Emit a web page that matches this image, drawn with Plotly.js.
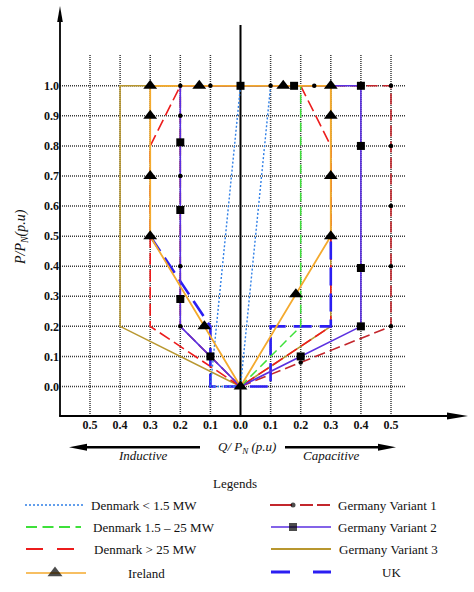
<!DOCTYPE html>
<html><head><meta charset="utf-8">
<script src="https://cdn.plot.ly/plotly-3.0.1.min.js"></script>
<style>html,body{margin:0;padding:0;background:#fff}#chart{width:474px;height:592px}</style>
</head><body><div id="chart"></div>
<script>
// ---------------- data ----------------
const qTickVals = [-0.5, -0.4, -0.3, -0.2, -0.1, 0.0, 0.1, 0.2, 0.3, 0.4, 0.5];
const qTickText = ['0.5', '0.4', '0.3', '0.2', '0.1', '0.0', '0.1', '0.2', '0.3', '0.4', '0.5'];
const pTickVals = [0.0, 0.1, 0.2, 0.3, 0.4, 0.5, 0.6, 0.7, 0.8, 0.9, 1.0];
const pTickText = ['0.0', '0.1', '0.2', '0.3', '0.4', '0.5', '0.6', '0.7', '0.8', '0.9', '1.0'];

const seriesNames = ['Denmark < 1.5 MW', 'Denmark 1.5 \u2013 25 MW', 'Denmark > 25 MW', 'Ireland',
                     'Germany Variant 1', 'Germany Variant 2', 'Germany Variant 3', 'UK'];

const denmarkLowQ  = [-0.1, 0.0, 0.1, 0.0, -0.1];
const denmarkLowP  = [0.0, 1.0, 1.0, 0.0, 0.0];
const denmarkMidQ  = [0.0, 0.2, 0.2];
const denmarkMidP  = [0.0, 0.2, 1.0];
const denmarkHighQ = [0.0, -0.3, -0.3, -0.2, 0.2, 0.3, 0.3, 0.0];
const denmarkHighP = [0.0, 0.2, 0.8, 1.0, 1.0, 0.8, 0.2, 0.0];
const irelandQ     = [0.0, -0.3, -0.3, 0.3, 0.3, 0.0];
const irelandP     = [0.0, 0.5, 1.0, 1.0, 0.5, 0.0];
const irelandMarkQ = [0.0, -0.12, -0.3, -0.3, -0.3, -0.3, -0.137, 0.142, 0.3, 0.3, 0.3, 0.3, 0.184];
const irelandMarkP = [0.0, 0.2, 0.5, 0.7, 0.9, 1.0, 1.0, 1.0, 1.0, 0.9, 0.7, 0.5, 0.307];
const gv1Q         = [0.0, 0.5, 0.5, -0.2, -0.2, 0.0];
const gv1P         = [0.0, 0.2, 1.0, 1.0, 0.2, 0.0];
const gv1MarkQ     = [0.2, 0.5, 0.5, 0.5, 0.5, 0.5, 0.245, 0.1, -0.1, -0.2, -0.2, -0.2, -0.2, -0.2];
const gv1MarkP     = [0.08, 0.2, 0.4, 0.6, 0.8, 1.0, 1.0, 1.0, 1.0, 1.0, 0.9, 0.7, 0.4, 0.2];
const gv2Q         = [0.0, 0.4, 0.4, -0.2, -0.2, 0.0];
const gv2P         = [0.0, 0.2, 1.0, 1.0, 0.2, 0.0];
const gv2MarkQ     = [0.2, 0.4, 0.4, 0.4, 0.4, 0.178, 0.0, -0.2, -0.2, -0.2, -0.1];
const gv2MarkP     = [0.1, 0.2, 0.394, 0.8, 1.0, 1.0, 1.0, 0.812, 0.587, 0.291, 0.1];
const gv3Q         = [0.0, -0.4, -0.4, 0.3, 0.3, 0.0];
const gv3P         = [0.0, 0.2, 1.0, 1.0, 0.2, 0.0];
const ukQ          = [-0.3, -0.1, -0.1, 0.1, 0.1, 0.3, 0.3];
const ukP          = [0.5, 0.2, 0.0, 0.0, 0.2, 0.2, 0.5];

// ---------------- styles ----------------
const FONT = 'Liberation Serif, Times New Roman, serif';
const C = {
  dkLow: '#2f7fe6', dkMid: '#3ee03a', dkHigh: '#ec1c1c', ie: '#f4aa2e',
  gv1: '#c3262c', gv2: '#5a2fe0', gv3: '#b8972f', uk: '#2b1ef2'
};

// figure geometry (pixels)
const W = 474, H = 592;
const plotL = 60, plotR = 470, plotT = 8, plotB = 416;
const q0px = 240.5, qScale = 301;     // px per 1.0 of Q
const p0px = 386.5, pScale = 300.7;   // px per 1.0 of P
const qAt = px => (px - q0px) / qScale;
const pAt = py => (p0px - py) / pScale;

function line(q, p, color, width, dash, name) {
  return {type: 'scatter', mode: 'lines', x: q, y: p, name: name, showlegend: false,
    hoverinfo: 'skip', line: {color: color, width: width, dash: dash}, xaxis: 'x', yaxis: 'y'};
}
function marks(q, p, symbol, size, name) {
  return {type: 'scatter', mode: 'markers', x: q, y: p, name: name, showlegend: false,
    hoverinfo: 'skip', marker: {symbol: symbol, size: size, color: '#000', line: {width: 0}},
    cliponaxis: false, xaxis: 'x', yaxis: 'y'};
}

const traces = [
  line(gv3Q, gv3P, C.gv3, 1.5, 'solid', seriesNames[6]),
  line(denmarkHighQ, denmarkHighP, C.dkHigh, 1.6, '12px,5px', seriesNames[2]),
  line(gv1Q, gv1P, C.gv1, 1.6, '11px,5px', seriesNames[4]),
  line(ukQ, ukP, C.uk, 2.6, '18px,8px', seriesNames[7]),
  line(gv2Q, gv2P, C.gv2, 1.6, 'solid', seriesNames[5]),
  line(denmarkMidQ, denmarkMidP, C.dkMid, 1.5, '9px,5px', seriesNames[1]),
  line(denmarkLowQ, denmarkLowP, C.dkLow, 1.4, '2px,2px', seriesNames[0]),
  line(irelandQ, irelandP, C.ie, 1.8, 'solid', seriesNames[3]),
  marks(gv1MarkQ, gv1MarkP, 'circle', 4.5, seriesNames[4]),
  marks(gv2MarkQ, gv2MarkP, 'square', 8, seriesNames[5]),
  marks(irelandMarkQ, irelandMarkP, 'triangle-up', 12, seriesNames[3])
];

// ---------------- legend samples (pixel overlay axes) ----------------
function lg(x, y, color, width, dash, msym, msize) {
  const t = {type: 'scatter', mode: 'lines', x: x, y: y, showlegend: false,
    hoverinfo: 'skip', xaxis: 'x2', yaxis: 'y2',
    line: {color: color, width: width, dash: dash}};
  if (msym) {
    t.mode = 'lines+markers';
    t.marker = {symbol: msym, size: msize, color: '#000', line: {width: 0}};
  }
  return t;
}
const legendRowsL = [505, 527, 549, 573];
const legendRowsR = [505, 527, 549, 572];
traces.push(
  lg([25, 83], [legendRowsL[0], legendRowsL[0]], C.dkLow, 1.5, '2px,2px'),
  lg([26, 81], [legendRowsL[1], legendRowsL[1]], C.dkMid, 1.8, '11px,5.5px'),
  lg([26, 77], [legendRowsL[2], legendRowsL[2]], C.dkHigh, 1.8, '17px,14px'),
  lg([26, 55, 86], [legendRowsL[3], legendRowsL[3], legendRowsL[3]], C.ie, 1.6, 'solid', 'triangle-up', [0, 13, 0]),
  lg([270, 293, 330], [legendRowsR[0], legendRowsR[0], legendRowsR[0]], C.gv1, 1.8, '22px,8px,13px,4px,13px,100px', 'circle', [0, 5, 0]),
  lg([271, 293, 331], [legendRowsR[1], legendRowsR[1], legendRowsR[1]], C.gv2, 1.6, 'solid', 'square', [0, 8, 0]),
  lg([271, 331], [legendRowsR[2], legendRowsR[2]], C.gv3, 1.8, 'solid'),
  lg([271, 331], [legendRowsR[3], legendRowsR[3]], C.uk, 3, '19px,23px,19px,100px')
);

// ---------------- shapes ----------------
const shapes = [];
const gridStyle = {color: '#3a3a3a', width: 1.5, dash: '1px,1px'};
qTickVals.forEach(q => {
  if (q === 0) return;
  shapes.push({type: 'line', xref: 'x', yref: 'y', x0: q, x1: q, y0: pAt(plotB), y1: pAt(55),
    line: gridStyle, layer: 'below'});
});
pTickVals.forEach(p => {
  shapes.push({type: 'line', xref: 'x', yref: 'y', x0: qAt(plotL), x1: qAt(405), y0: p, y1: p,
    line: gridStyle, layer: 'below'});
});
// central Q = 0 axis
shapes.push({type: 'line', xref: 'x', yref: 'y', x0: 0, x1: 0, y0: pAt(plotB), y1: pAt(25),
  line: {color: '#000', width: 2}, layer: 'below'});

// frame axes with arrows (pixel overlay)
const px = (extra) => Object.assign({xref: 'x2', yref: 'y2'}, extra);
shapes.push(px({type: 'line', x0: 60, x1: 60, y0: 416, y1: 18, line: {color: '#000', width: 1.8}}));
shapes.push(px({type: 'path', path: 'M60,6 L57.2,22 L62.8,22 Z', fillcolor: '#000', line: {width: 0}}));
shapes.push(px({type: 'line', x0: 59.1, x1: 452, y0: 416, y1: 416, line: {color: '#000', width: 1.8}}));
shapes.push(px({type: 'path', path: 'M468,416 L447,412.5 L447,419.5 Z', fillcolor: '#000', line: {width: 0}}));
// Inductive / Capacitive arrows
shapes.push(px({type: 'line', x0: 200, x1: 82, y0: 447.3, y1: 447.3, line: {color: '#000', width: 2.4}}));
shapes.push(px({type: 'path', path: 'M69,447.3 L87,443.8 L87,450.8 Z', fillcolor: '#000', line: {width: 0}}));
shapes.push(px({type: 'line', x0: 285, x1: 383, y0: 447.3, y1: 447.3, line: {color: '#000', width: 2.4}}));
shapes.push(px({type: 'path', path: 'M396,447.3 L378,443.8 L378,450.8 Z', fillcolor: '#000', line: {width: 0}}));

// ---------------- annotations ----------------
const ann = [];
function txt(x, y, text, opts) {
  ann.push(Object.assign({xref: 'x2', yref: 'y2', x: x, y: y, text: text, showarrow: false,
    xanchor: 'center', yanchor: 'middle', font: {family: FONT, size: 13, color: '#111'}}, opts || {}));
}
txt(21, 237, '<i>P/P<sub>N</sub>(p.u)</i>', {textangle: -90, font: {family: FONT, size: 14, color: '#111'}});
txt(247, 447, '<i>Q/ P<sub>N</sub> (p.u)</i>');
txt(143, 455.5, '<i>Inductive</i>');
txt(331, 455.5, '<i>Capacitive</i>');
txt(235, 483, 'Legends');
const legendTextX = [89, 91, 92, 126];
const legendTextXR = [336, 336, 337, 380];
[0, 1, 2, 3].forEach(i => txt(legendTextX[i], legendRowsL[i], seriesNames[i], {xanchor: 'left'}));
[4, 5, 6, 7].forEach((n, i) => txt(legendTextXR[i], legendRowsR[i], seriesNames[n], {xanchor: 'left'}));

// ---------------- layout ----------------
const layout = {
  width: W, height: H,
  margin: {l: 0, r: 0, t: 0, b: 0, pad: 0},
  paper_bgcolor: '#fff', plot_bgcolor: 'rgba(0,0,0,0)',
  showlegend: false,
  font: {family: FONT, color: '#111'},
  xaxis: {domain: [plotL / W, plotR / W], range: [qAt(plotL), qAt(plotR)], anchor: 'y',
    tickmode: 'array', tickvals: qTickVals, ticktext: qTickText, ticks: '',
    showgrid: false, zeroline: false, showline: false, fixedrange: true,
    tickfont: {family: FONT, size: 12, weight: 'bold', color: '#111'}},
  yaxis: {domain: [(H - plotB) / H, (H - plotT) / H], range: [pAt(plotB), pAt(plotT)], anchor: 'x',
    tickmode: 'array', tickvals: pTickVals, ticktext: pTickText, ticks: '',
    showgrid: false, zeroline: false, showline: false, fixedrange: true,
    tickfont: {family: FONT, size: 12, weight: 'bold', color: '#111'}},
  xaxis2: {domain: [0, 1], range: [0, W], anchor: 'y2', visible: false, fixedrange: true},
  yaxis2: {domain: [0, 1], range: [H, 0], anchor: 'x2', visible: false, fixedrange: true},
  shapes: shapes,
  annotations: ann
};

Plotly.newPlot('chart', traces, layout, {displayModeBar: false, staticPlot: true});
</script>
</body></html>
